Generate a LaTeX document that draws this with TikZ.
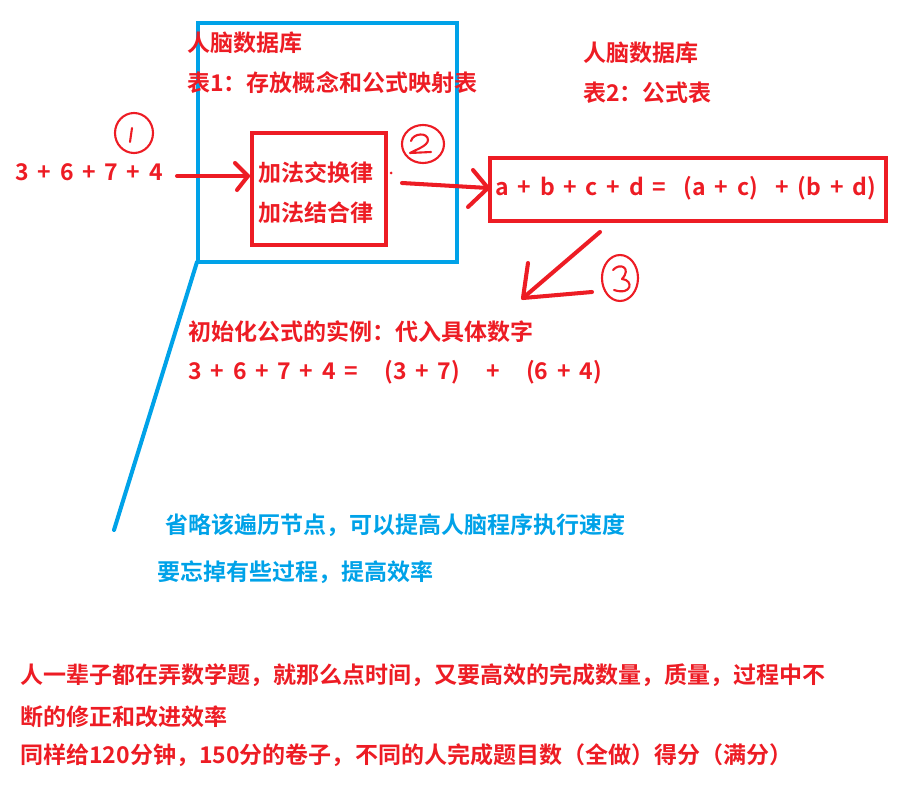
\documentclass[tikz,border=0pt]{standalone}
\usepackage{fontspec}
\setmainfont{Noto Sans CJK SC}[BoldFont={Noto Sans CJK SC Bold}]
\definecolor{paintred}{HTML}{ED1C24}
\definecolor{paintblue}{HTML}{00A2E8}

\begin{document}
\begin{tikzpicture}[x=0.02cm, y=-0.02cm,
    txt/.style={anchor=west, inner sep=0pt, font=\fontsize{13.1}{15}\selectfont\bfseries},
    redtxt/.style={txt, text=paintred},
    bluetxt/.style={txt, text=paintblue},
    mathtxt/.style={redtxt, execute at begin node={\spaceskip=0.38em\relax}},
    redline/.style={draw=paintred, line width=2.3pt, line cap=round, line join=round},
    blueline/.style={draw=paintblue, line width=2.3pt, line cap=round},
    penline/.style={draw=paintred, line width=1.2pt, line cap=round, line join=round}]

\useasboundingbox (0,0) rectangle (921,794);

% Blue frame (table 1) and its leader line
\draw[blueline] (198,23) rectangle (457,262);
\coordinate (frameCorner) at (197,262);
\coordinate (leaderEnd) at (114,530);
\draw[blueline] (frameCorner) -- (leaderEnd);

% Headings of the two tables
\node[redtxt] (brainA) at (187,43) {人脑数据库};
\node[redtxt] (tableA) at (187,83) {表1：存放概念和公式映射表};
\node[redtxt] (brainB) at (583,53) {人脑数据库};
\node[redtxt] (tableB) at (583,93) {表2：公式表};

% Input expression
\node[mathtxt] (input) at (15,172) {3 + 6 + 7 + 4};

% Box with the two laws
\draw[redline, line cap=butt, line join=miter] (252,133) rectangle (386,245);
\node[redtxt] (commute) at (258,173) {加法交换律};
\node[redtxt] (assoc) at (258,213) {加法结合律};

% Formula box
\draw[redline, line cap=butt, line join=miter] (490,158) rectangle (886,221);
\node[mathtxt] (formula) at (495,188) {a + b + c + d =\ \ (a + c)\ \ + (b + d)};

% Arrow 1
\coordinate (a1s) at (177,176);
\coordinate (a1e) at (248,176);
\draw[redline] (a1s) -- (a1e);
\draw[redline] (235,163) -- (a1e) -- (237,190);

% Arrow 2
\coordinate (a2s) at (402,183);
\coordinate (a2e) at (488,188);
\fill[paintred] (391,173) circle (1.5);
\draw[redline] (a2s) -- (a2e);
\draw[redline] (473,170) -- (a2e) -- (468,207);

% Arrow 3
\coordinate (a3s) at (600,232);
\coordinate (a3e) at (523,298);
\draw[redline] (a3s) -- (a3e);
\draw[redline] (528,263) -- (a3e) -- (592,292);

% Hand drawn step numbers
\draw[penline] (134,133) ellipse (19 and 20);
\draw[penline] (132,128) -- (130,142);
\draw[penline] (423,144) ellipse (21 and 19);
\draw[penline] (411,141) .. controls (413,133) and (428,132) .. (428,140)
    .. controls (428,146) and (415,150) .. (410,153) -- (431,152);
\draw[penline] (620,278) ellipse (18 and 23);
\draw[penline] (613,270) .. controls (620,262) and (632,268) .. (622,279)
    .. controls (634,280) and (632,296) .. (614,290);

% Instance of the formula
\node[redtxt] (initA) at (188,332) {初始化公式的实例：代入具体数字};
\node[mathtxt] (initB) at (188,372) {3 + 6 + 7 + 4 =\ \ \ (3 + 7)\ \ \ +\ \ \ (6 + 4)};

% Blue remarks
\node[bluetxt] (skip) at (165,525) {省略该遍历节点，可以提高人脑程序执行速度};
\node[bluetxt] (forget) at (157,572) {要忘掉有些过程，提高效率};

% Closing remarks
\node[redtxt] (lineA) at (20,675) {人一辈子都在弄数学题，就那么点时间，又要高效的完成数量，质量，过程中不};
\node[redtxt] (lineB) at (20,717) {断的修正和改进效率};
\node[redtxt] (lineC) at (20,755) {同样给120分钟，150分的卷子，不同的人完成题目数（全做）得分（满分）};

\end{tikzpicture}
\end{document}
